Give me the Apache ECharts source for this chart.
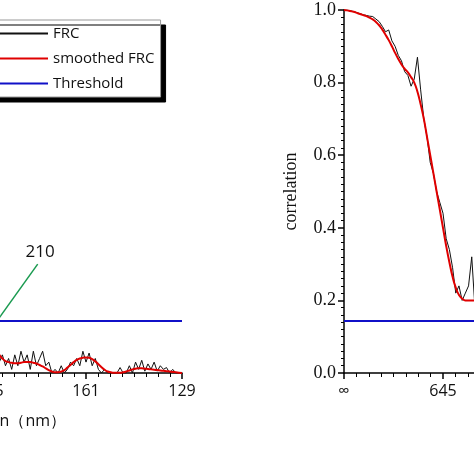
<!DOCTYPE html>
<html><head><meta charset="utf-8">
<script src="https://cdn.jsdelivr.net/npm/echarts@6/dist/echarts.min.js"></script>
<style>html,body{margin:0;padding:0;background:#fff}#c{width:474px;height:474px}</style>
</head><body><div id="c"></div>
<script>
// spatial frequency axis (1/um), labels shown as resolution in nm
var tickRes = ["∞", "645", "323", "215", "161", "129"];
var threshold = 0.143;

// right panel (measured FRC)
var rightFreq = [0,0.05,0.1,0.15,0.2,0.25,0.3,0.35,0.4,0.45,0.5,0.55,0.6,0.65,0.7,0.75,0.8,0.85,0.9,0.95,1.0,1.05,1.1,1.15,1.2,1.25,1.3,1.35,1.4,1.45,1.5,1.55,1.6,1.65,1.7,1.75,1.8,1.85,1.9,1.95,2.0,2.05];
var rightFRC  = [1.0,1.0,0.998,0.996,0.993,0.99,0.987,0.985,0.983,0.982,0.975,0.968,0.955,0.94,0.945,0.915,0.9,0.875,0.86,0.83,0.82,0.79,0.81,0.87,0.78,0.7,0.65,0.58,0.55,0.5,0.47,0.44,0.37,0.34,0.29,0.22,0.24,0.2,0.22,0.24,0.32,0.18];
var rightSmooth = [1,0.999,0.997,0.995,0.992,0.989,0.986,0.983,0.979,0.974,0.967,0.958,0.946,0.932,0.917,0.9,0.882,0.865,0.85,0.838,0.828,0.815,0.8,0.775,0.74,0.7,0.65,0.6,0.55,0.5,0.45,0.4,0.35,0.305,0.265,0.235,0.215,0.205,0.2,0.2,0.2,0.2];

// left panel (tail of FRC near cut-off)
var leftFreq = [4.70,4.75,4.80,4.85,4.90,4.95,5.00,5.05,5.10,5.15,5.20,5.25,5.30,5.35,5.40,5.45,5.50,5.55,5.60,5.65,5.70,5.75,5.80,5.85,5.90,5.95,6.00,6.05,6.10,6.15,6.20,6.25,6.30,6.35,6.40,6.45,6.50,6.55,6.60,6.65,6.70,6.75,6.80,6.85,6.90,6.95,7.00,7.05,7.10,7.15,7.20,7.25,7.30,7.35,7.40,7.45,7.50,7.55,7.60,7.65,7.70,7.75];
var leftFRC = [0.10,0.06,0.03,0.05,0.02,0.04,0.01,0.05,0.02,0.06,0.03,0.05,0.01,0.06,0.02,0.04,0.06,0.02,0.03,0.0,0.01,0.0,0.02,0.0,0.01,0.03,0.02,0.04,0.02,0.06,0.03,0.055,0.02,0.04,0.01,0.0,0.01,0.0,0.0,0.0,0.0,0.015,0.0,0.0,0.02,0.0,0.03,0.01,0.035,0.005,0.025,0.01,0.03,0.005,0.02,0.01,0.015,0.0,0.01,0.0,0.0,0.0];
var leftSmooth = [0.09,0.07,0.05,0.04,0.033,0.03,0.028,0.027,0.027,0.028,0.03,0.03,0.03,0.028,0.026,0.022,0.018,0.013,0.008,0.004,0.002,0.002,0.004,0.008,0.015,0.022,0.03,0.036,0.04,0.042,0.043,0.042,0.038,0.032,0.024,0.016,0.009,0.004,0.002,0.001,0.001,0.001,0.002,0.004,0.007,0.01,0.012,0.013,0.013,0.012,0.011,0.01,0.009,0.008,0.007,0.006,0.005,0.004,0.003,0.002,0.001,0.0];
var annotRes = 210;

function pairs(xs, ys) { return xs.map(function(x, i) { return [x, ys[i]]; }); }
function resLabel(v) { return tickRes[Math.round(v / 1.55)] || ""; }

var chart = echarts.init(document.getElementById("c"));
var xBase = {
  type: "value", min: 0, max: 7.75, interval: 1.55,
  axisLine: { lineStyle: { color: "#000", width: 1.5 } },
  axisTick: { length: 6, lineStyle: { color: "#000", width: 1.5 } },
  minorTick: { show: true, splitNumber: 8, length: 4, lineStyle: { color: "#000" } },
  splitLine: { show: false },
  axisLabel: { formatter: resLabel, color: "#111", fontSize: 16, fontFamily: "Open Sans", margin: 10, hideOverlap: false }
};
var yBase = {
  type: "value", min: 0, max: 1, interval: 0.2,
  axisLine: { show: true, lineStyle: { color: "#000", width: 1.5 } },
  axisTick: { show: true, length: 6, lineStyle: { color: "#000", width: 1.5 } },
  minorTick: { show: true, splitNumber: 10, length: 3, lineStyle: { color: "#000" } },
  splitLine: { show: false },
  axisLabel: { formatter: function(v) { return v.toFixed(1); }, color: "#111", fontSize: 18, fontFamily: "Liberation Serif", margin: 8 }
};
var legendIcon = "path://M0 0H60V2H0Z";

chart.setOption({
  animation: false,
  grid: [
    { left: -298, width: 480, top: 10, height: 363, outerBoundsMode: "none", containLabel: false },
    { left: 344, width: 495, top: 10, height: 363, outerBoundsMode: "none", containLabel: false }
  ],
  xAxis: [
    Object.assign({}, xBase, { gridIndex: 0 }),
    Object.assign({}, xBase, { gridIndex: 1 })
  ],
  yAxis: [
    Object.assign({}, yBase, { gridIndex: 0 }),
    Object.assign({}, yBase, { gridIndex: 1, name: "correlation", nameLocation: "middle", nameGap: 44,
      nameTextStyle: { fontFamily: "Liberation Serif", fontSize: 18, color: "#111" } })
  ],
  legend: {
    orient: "vertical", left: -12, top: 20, itemWidth: 54, itemHeight: 2, itemGap: 10,
    data: [{ name: "FRC", icon: legendIcon }, { name: "smoothed FRC", icon: legendIcon }, { name: "Threshold", icon: legendIcon }],
    backgroundColor: "#fff", borderColor: "#999", borderWidth: 1, padding: [6, 6, 6, 6],
    shadowColor: "#000", shadowOffsetX: 5, shadowOffsetY: 5, shadowBlur: 0,
    textStyle: { fontFamily: "Open Sans", fontSize: 15, color: "#111" }
  },
  graphic: [{ type: "text", right: 474 - 66, top: 413,
    style: { text: "Resolution（nm）", font: "16px 'Open Sans'", fill: "#111", textAlign: "right" } }],
  series: [
    { name: "FRC", type: "line", xAxisIndex: 0, yAxisIndex: 0, data: pairs(leftFreq, leftFRC),
      symbol: "none", lineStyle: { color: "#111", width: 1 }, itemStyle: { color: "#111" }, z: 2 },
    { name: "smoothed FRC", type: "line", smooth: true, xAxisIndex: 0, yAxisIndex: 0, data: pairs(leftFreq, leftSmooth),
      symbol: "none", lineStyle: { color: "#e00000", width: 2 }, itemStyle: { color: "#e00000" }, z: 3 },
    { name: "Threshold", type: "line", xAxisIndex: 0, yAxisIndex: 0, data: [[0, threshold], [7.75, threshold]],
      symbol: "none", lineStyle: { color: "#1010c8", width: 2 }, itemStyle: { color: "#1010c8" },
      markLine: { symbol: "none", silent: true, lineStyle: { color: "#1a9a50", width: 1.5, type: "solid" },
        label: { show: true, position: "end", formatter: String(annotRes), fontSize: 17, fontFamily: "Open Sans", color: "#111", distance: 4 },
        data: [[{ coord: [1000 / annotRes, threshold] }, { coord: [5.42, 0.30] }]] } },
    { name: "FRC", type: "line", xAxisIndex: 1, yAxisIndex: 1, data: pairs(rightFreq, rightFRC),
      symbol: "none", lineStyle: { color: "#111", width: 1 }, z: 2 },
    { name: "smoothed FRC", type: "line", smooth: true, xAxisIndex: 1, yAxisIndex: 1, data: pairs(rightFreq, rightSmooth),
      symbol: "none", lineStyle: { color: "#e00000", width: 2 }, z: 3 },
    { name: "Threshold", type: "line", xAxisIndex: 1, yAxisIndex: 1, data: [[0, threshold], [7.75, threshold]],
      symbol: "none", lineStyle: { color: "#1010c8", width: 2 } }
  ]
});
</script></body></html>
